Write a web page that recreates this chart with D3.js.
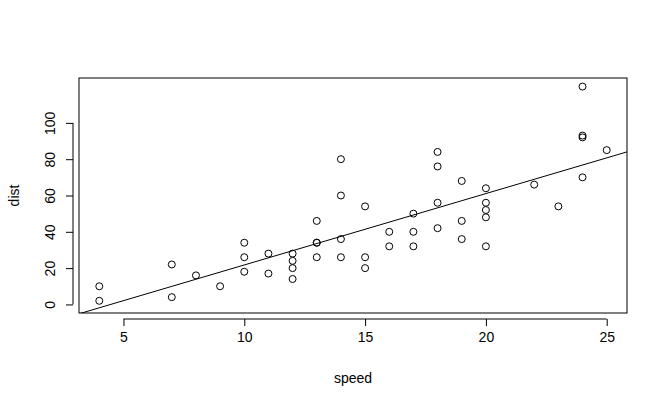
<!DOCTYPE html>
<html>
<head>
<script src="https://cdn.jsdelivr.net/npm/d3@7"></script>
<style>body{margin:0;background:#fff}</style>
</head>
<body>
<div id="chart"></div>
<script>
// cars data
const speed = [4,4,7,7,8,9,10,10,10,11,11,12,12,12,12,13,13,13,13,14,14,14,14,15,15,15,16,16,17,17,17,18,18,18,18,19,19,19,20,20,20,20,20,22,23,24,24,24,24,25];
const dist = [2,10,4,22,16,10,18,26,34,17,28,14,20,24,28,26,34,34,46,26,36,60,80,20,26,54,32,40,32,40,50,42,56,76,84,36,46,68,32,48,52,56,64,66,54,70,92,93,120,85];
const xTicks = [5,10,15,20,25];
const yTicks = [0,20,40,60,80,100];
const fit = { intercept: -17.579, slope: 3.932 };

const width = 666, height = 408,
      margin = { top: 78, right: 39, bottom: 95, left: 79 };

const svg = d3.select("#chart").append("svg")
    .attr("width", width).attr("height", height)
    .style("font-family", "Liberation Sans, Arial, sans-serif");

const x = d3.scaleLinear().domain([3.16, 25.84]).range([margin.left, width - margin.right]);
const y = d3.scaleLinear().domain([-4.72, 124.72]).range([height - margin.bottom, margin.top]);

svg.append("defs").append("clipPath").attr("id", "clip")
    .append("rect")
    .attr("x", margin.left).attr("y", margin.top)
    .attr("width", width - margin.left - margin.right)
    .attr("height", height - margin.top - margin.bottom);

svg.append("rect")
    .attr("x", margin.left).attr("y", margin.top)
    .attr("width", width - margin.left - margin.right)
    .attr("height", height - margin.top - margin.bottom)
    .attr("fill", "none").attr("stroke", "#000");

svg.append("g")
    .attr("transform", `translate(0,${height - margin.bottom + 6})`)
    .call(d3.axisBottom(x).tickValues(xTicks).tickSizeOuter(0).tickSize(7).tickPadding(6))
    .call(g => g.select(".domain").attr("d", `M${x(5)},0H${x(25)}`))
    .call(g => g.selectAll("text").attr("font-size", 14).attr("fill", "#000").style("font-family", "inherit"));

svg.append("g")
    .attr("transform", `translate(${margin.left - 6},0)`)
    .call(d3.axisLeft(y).tickValues(yTicks).tickSizeOuter(0).tickSize(7).tickPadding(6))
    .call(g => g.select(".domain").attr("d", `M0,${y(0)}V${y(100)}`))
    .call(g => g.selectAll("text")
        .attr("font-size", 14).attr("fill", "#000").style("font-family", "inherit")
        .attr("text-anchor", "middle").attr("dy", 0)
        .attr("transform", function() { return `translate(-18,0) rotate(-90)`; })
        .attr("x", 0).attr("y", 0));

svg.append("text").attr("x", (margin.left + width - margin.right) / 2).attr("y", 383)
    .attr("text-anchor", "middle").attr("font-size", 14).text("speed");
svg.append("text").attr("transform", `translate(19,${(margin.top + height - margin.bottom) / 2}) rotate(-90)`)
    .attr("text-anchor", "middle").attr("font-size", 14).text("dist");

svg.append("g").selectAll("circle")
    .data(speed.map((s, i) => [s, dist[i]]))
    .join("circle")
    .attr("cx", d => x(d[0])).attr("cy", d => y(d[1])).attr("r", 3.5)
    .attr("fill", "none").attr("stroke", "#000");

const xd = x.domain();
svg.append("line").attr("clip-path", "url(#clip)")
    .attr("x1", x(xd[0])).attr("y1", y(fit.intercept + fit.slope * xd[0]))
    .attr("x2", x(xd[1])).attr("y2", y(fit.intercept + fit.slope * xd[1]))
    .attr("stroke", "#000");
</script>
</body>
</html>
